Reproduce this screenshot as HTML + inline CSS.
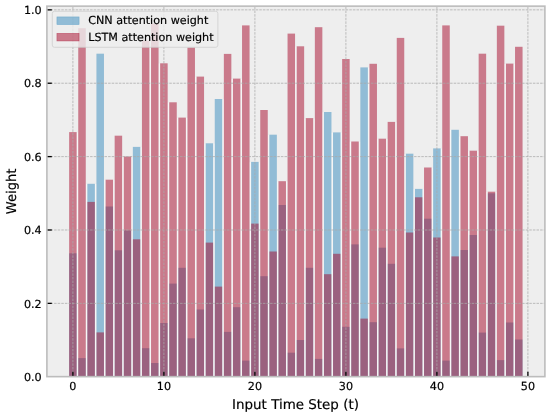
<!DOCTYPE html>
<html lang="en">
<head>
<meta charset="utf-8">
<title>Attention weights</title>
<style>
html,body{margin:0;padding:0;background:#ffffff;}
body{width:550px;height:414px;overflow:hidden;}
svg{display:block;}
</style>
</head>
<body>
<svg width="550" height="414" viewBox="0 0 550 414" font-family="'DejaVu Sans','Liberation Sans',sans-serif" text-rendering="geometricPrecision">
<rect x="0" y="0" width="550" height="414" fill="#ffffff"/>
<rect x="46.9" y="6.15" width="498.00" height="370.50" fill="#eeeeee"/>
<g fill="#348ABD" fill-opacity="0.5"><rect x="69.15" y="253.30" width="7.50" height="123.35"/><rect x="78.25" y="358.10" width="7.50" height="18.55"/><rect x="87.35" y="183.80" width="7.50" height="192.85"/><rect x="96.45" y="53.70" width="7.50" height="322.95"/><rect x="105.55" y="206.50" width="7.50" height="170.15"/><rect x="114.65" y="250.30" width="7.50" height="126.35"/><rect x="123.75" y="230.40" width="7.50" height="146.25"/><rect x="132.85" y="146.90" width="7.50" height="229.75"/><rect x="141.95" y="348.20" width="7.50" height="28.45"/><rect x="151.05" y="363.00" width="7.50" height="13.65"/><rect x="160.15" y="323.00" width="7.50" height="53.65"/><rect x="169.25" y="283.60" width="7.50" height="93.05"/><rect x="178.35" y="267.80" width="7.50" height="108.85"/><rect x="187.45" y="338.30" width="7.50" height="38.35"/><rect x="196.55" y="309.50" width="7.50" height="67.15"/><rect x="205.65" y="143.30" width="7.50" height="233.35"/><rect x="214.75" y="99.00" width="7.50" height="277.65"/><rect x="223.85" y="331.90" width="7.50" height="44.75"/><rect x="232.95" y="307.20" width="7.50" height="69.45"/><rect x="242.05" y="360.60" width="7.50" height="16.05"/><rect x="251.15" y="161.90" width="7.50" height="214.75"/><rect x="260.25" y="276.20" width="7.50" height="100.45"/><rect x="269.35" y="134.70" width="7.50" height="241.95"/><rect x="278.45" y="205.00" width="7.50" height="171.65"/><rect x="287.55" y="352.70" width="7.50" height="23.95"/><rect x="296.65" y="340.00" width="7.50" height="36.65"/><rect x="305.75" y="267.80" width="7.50" height="108.85"/><rect x="314.85" y="358.90" width="7.50" height="17.75"/><rect x="323.95" y="112.00" width="7.50" height="264.65"/><rect x="333.05" y="132.40" width="7.50" height="244.25"/><rect x="342.15" y="326.80" width="7.50" height="49.85"/><rect x="351.25" y="244.40" width="7.50" height="132.25"/><rect x="360.35" y="67.40" width="7.50" height="309.25"/><rect x="369.45" y="322.20" width="7.50" height="54.45"/><rect x="378.55" y="247.70" width="7.50" height="128.95"/><rect x="387.65" y="263.80" width="7.50" height="112.85"/><rect x="396.75" y="348.40" width="7.50" height="28.25"/><rect x="405.85" y="153.70" width="7.50" height="222.95"/><rect x="414.95" y="188.90" width="7.50" height="187.75"/><rect x="424.05" y="218.70" width="7.50" height="157.95"/><rect x="433.15" y="148.40" width="7.50" height="228.25"/><rect x="442.25" y="360.60" width="7.50" height="16.05"/><rect x="451.35" y="129.80" width="7.50" height="246.85"/><rect x="460.45" y="250.00" width="7.50" height="126.65"/><rect x="469.55" y="235.00" width="7.50" height="141.65"/><rect x="478.65" y="332.60" width="7.50" height="44.05"/><rect x="487.75" y="193.30" width="7.50" height="183.35"/><rect x="496.85" y="360.10" width="7.50" height="16.55"/><rect x="505.95" y="322.50" width="7.50" height="54.15"/><rect x="515.05" y="339.50" width="7.50" height="37.15"/></g>
<g fill="#A60628" fill-opacity="0.5"><rect x="69.15" y="132.10" width="7.50" height="244.55"/><rect x="78.25" y="28.20" width="7.50" height="348.45"/><rect x="87.35" y="201.90" width="7.50" height="174.75"/><rect x="96.45" y="332.40" width="7.50" height="44.25"/><rect x="105.55" y="179.70" width="7.50" height="196.95"/><rect x="114.65" y="135.70" width="7.50" height="240.95"/><rect x="123.75" y="156.50" width="7.50" height="220.15"/><rect x="132.85" y="239.30" width="7.50" height="137.35"/><rect x="141.95" y="40.70" width="7.50" height="335.95"/><rect x="151.05" y="23.50" width="7.50" height="353.15"/><rect x="160.15" y="63.30" width="7.50" height="313.35"/><rect x="169.25" y="102.30" width="7.50" height="274.35"/><rect x="178.35" y="117.60" width="7.50" height="259.05"/><rect x="187.45" y="47.50" width="7.50" height="329.15"/><rect x="196.55" y="76.60" width="7.50" height="300.05"/><rect x="205.65" y="242.60" width="7.50" height="134.05"/><rect x="214.75" y="286.60" width="7.50" height="90.05"/><rect x="223.85" y="53.90" width="7.50" height="322.75"/><rect x="232.95" y="78.60" width="7.50" height="298.05"/><rect x="242.05" y="25.40" width="7.50" height="351.25"/><rect x="251.15" y="223.60" width="7.50" height="153.05"/><rect x="260.25" y="110.00" width="7.50" height="266.65"/><rect x="269.35" y="251.50" width="7.50" height="125.15"/><rect x="278.45" y="181.20" width="7.50" height="195.45"/><rect x="287.55" y="33.60" width="7.50" height="343.05"/><rect x="296.65" y="46.30" width="7.50" height="330.35"/><rect x="305.75" y="118.10" width="7.50" height="258.55"/><rect x="314.85" y="27.20" width="7.50" height="349.45"/><rect x="323.95" y="274.20" width="7.50" height="102.45"/><rect x="333.05" y="253.80" width="7.50" height="122.85"/><rect x="342.15" y="59.00" width="7.50" height="317.65"/><rect x="351.25" y="141.50" width="7.50" height="235.15"/><rect x="360.35" y="318.60" width="7.50" height="58.05"/><rect x="369.45" y="63.80" width="7.50" height="312.85"/><rect x="378.55" y="138.70" width="7.50" height="237.95"/><rect x="387.65" y="121.90" width="7.50" height="254.75"/><rect x="396.75" y="37.90" width="7.50" height="338.75"/><rect x="405.85" y="232.50" width="7.50" height="144.15"/><rect x="414.95" y="197.30" width="7.50" height="179.35"/><rect x="424.05" y="167.50" width="7.50" height="209.15"/><rect x="433.15" y="237.50" width="7.50" height="139.15"/><rect x="442.25" y="25.40" width="7.50" height="351.25"/><rect x="451.35" y="256.40" width="7.50" height="120.25"/><rect x="460.45" y="136.20" width="7.50" height="240.45"/><rect x="469.55" y="150.70" width="7.50" height="225.95"/><rect x="478.65" y="53.70" width="7.50" height="322.95"/><rect x="487.75" y="191.70" width="7.50" height="184.95"/><rect x="496.85" y="25.70" width="7.50" height="350.95"/><rect x="505.95" y="63.60" width="7.50" height="313.05"/><rect x="515.05" y="46.80" width="7.50" height="329.85"/></g>
<g stroke="#ffffff" stroke-opacity="0.5" stroke-width="1.1" fill="none"><line x1="77.45" y1="132.40" x2="77.45" y2="376.65"/><line x1="86.55" y1="184.10" x2="86.55" y2="376.65"/><line x1="95.65" y1="184.10" x2="95.65" y2="376.65"/><line x1="104.75" y1="180.00" x2="104.75" y2="376.65"/><line x1="113.85" y1="180.00" x2="113.85" y2="376.65"/><line x1="122.95" y1="156.80" x2="122.95" y2="376.65"/><line x1="132.05" y1="156.80" x2="132.05" y2="376.65"/><line x1="141.15" y1="147.20" x2="141.15" y2="376.65"/><line x1="150.25" y1="41.00" x2="150.25" y2="376.65"/><line x1="159.35" y1="63.60" x2="159.35" y2="376.65"/><line x1="168.45" y1="102.60" x2="168.45" y2="376.65"/><line x1="177.55" y1="117.90" x2="177.55" y2="376.65"/><line x1="186.65" y1="117.90" x2="186.65" y2="376.65"/><line x1="195.75" y1="76.90" x2="195.75" y2="376.65"/><line x1="204.85" y1="143.60" x2="204.85" y2="376.65"/><line x1="213.95" y1="143.60" x2="213.95" y2="376.65"/><line x1="223.05" y1="99.30" x2="223.05" y2="376.65"/><line x1="232.15" y1="78.90" x2="232.15" y2="376.65"/><line x1="241.25" y1="78.90" x2="241.25" y2="376.65"/><line x1="250.35" y1="162.20" x2="250.35" y2="376.65"/><line x1="259.45" y1="162.20" x2="259.45" y2="376.65"/><line x1="268.55" y1="135.00" x2="268.55" y2="376.65"/><line x1="277.65" y1="181.50" x2="277.65" y2="376.65"/><line x1="286.75" y1="181.50" x2="286.75" y2="376.65"/><line x1="295.85" y1="46.60" x2="295.85" y2="376.65"/><line x1="304.95" y1="118.40" x2="304.95" y2="376.65"/><line x1="314.05" y1="118.40" x2="314.05" y2="376.65"/><line x1="323.15" y1="112.30" x2="323.15" y2="376.65"/><line x1="332.25" y1="132.70" x2="332.25" y2="376.65"/><line x1="341.35" y1="132.70" x2="341.35" y2="376.65"/><line x1="350.45" y1="141.80" x2="350.45" y2="376.65"/><line x1="359.55" y1="141.80" x2="359.55" y2="376.65"/><line x1="368.65" y1="67.70" x2="368.65" y2="376.65"/><line x1="377.75" y1="139.00" x2="377.75" y2="376.65"/><line x1="386.85" y1="139.00" x2="386.85" y2="376.65"/><line x1="395.95" y1="122.20" x2="395.95" y2="376.65"/><line x1="405.05" y1="154.00" x2="405.05" y2="376.65"/><line x1="414.15" y1="189.20" x2="414.15" y2="376.65"/><line x1="423.25" y1="189.20" x2="423.25" y2="376.65"/><line x1="432.35" y1="167.80" x2="432.35" y2="376.65"/><line x1="441.45" y1="148.70" x2="441.45" y2="376.65"/><line x1="450.55" y1="130.10" x2="450.55" y2="376.65"/><line x1="459.65" y1="136.50" x2="459.65" y2="376.65"/><line x1="468.75" y1="151.00" x2="468.75" y2="376.65"/><line x1="477.85" y1="151.00" x2="477.85" y2="376.65"/><line x1="486.95" y1="192.00" x2="486.95" y2="376.65"/><line x1="496.05" y1="192.00" x2="496.05" y2="376.65"/><line x1="505.15" y1="63.90" x2="505.15" y2="376.65"/><line x1="514.25" y1="63.90" x2="514.25" y2="376.65"/></g>
<g stroke="#aaaaaa" stroke-width="0.75" stroke-dasharray="2.5 1.1" fill="none"><line x1="72.90" y1="376.65" x2="72.90" y2="6.15"/><line x1="163.90" y1="376.65" x2="163.90" y2="6.15"/><line x1="254.90" y1="376.65" x2="254.90" y2="6.15"/><line x1="345.90" y1="376.65" x2="345.90" y2="6.15"/><line x1="436.90" y1="376.65" x2="436.90" y2="6.15"/><line x1="527.90" y1="376.65" x2="527.90" y2="6.15"/><line x1="46.9" y1="303.37" x2="544.9" y2="303.37"/><line x1="46.9" y1="229.99" x2="544.9" y2="229.99"/><line x1="46.9" y1="156.61" x2="544.9" y2="156.61"/><line x1="46.9" y1="83.23" x2="544.9" y2="83.23"/><line x1="46.9" y1="9.85" x2="544.9" y2="9.85"/></g>
<g stroke="#000000" stroke-width="1.3" fill="none"><line x1="72.90" y1="376.65" x2="72.90" y2="371.75"/><line x1="163.90" y1="376.65" x2="163.90" y2="371.75"/><line x1="254.90" y1="376.65" x2="254.90" y2="371.75"/><line x1="345.90" y1="376.65" x2="345.90" y2="371.75"/><line x1="436.90" y1="376.65" x2="436.90" y2="371.75"/><line x1="527.90" y1="376.65" x2="527.90" y2="371.75"/><line x1="46.9" y1="303.37" x2="51.80" y2="303.37"/><line x1="46.9" y1="229.99" x2="51.80" y2="229.99"/><line x1="46.9" y1="156.61" x2="51.80" y2="156.61"/><line x1="46.9" y1="83.23" x2="51.80" y2="83.23"/><line x1="46.9" y1="9.85" x2="51.80" y2="9.85"/></g>
<rect x="46.9" y="6.15" width="498.00" height="370.50" fill="none" stroke="#bcbcbc" stroke-width="1.6"/>
<rect x="52.3" y="11.3" width="165.6" height="36.0" rx="2.2" ry="2.2" fill="#eeeeee" fill-opacity="0.8" stroke="#cccccc" stroke-opacity="0.8" stroke-width="0.9"/>
<rect x="56.9" y="16.9" width="22.2" height="7.7" fill="#348ABD" fill-opacity="0.5" stroke="#348ABD" stroke-opacity="0.5" stroke-width="0.55"/>
<rect x="56.9" y="33.3" width="22.2" height="7.7" fill="#A60628" fill-opacity="0.5" stroke="#A60628" stroke-opacity="0.5" stroke-width="0.55"/>
<text stroke="#000000" stroke-width="0.18" x="88.2" y="24.2" font-size="11.16" fill="#000">CNN attention weight</text>
<text stroke="#000000" stroke-width="0.18" x="88.2" y="40.6" font-size="11.16" fill="#000">LSTM attention weight</text>
<g font-size="11.16" fill="#000000"><text stroke="#000000" stroke-width="0.18" x="72.90" y="389.9" text-anchor="middle">0</text><text stroke="#000000" stroke-width="0.18" x="163.90" y="389.9" text-anchor="middle">10</text><text stroke="#000000" stroke-width="0.18" x="254.90" y="389.9" text-anchor="middle">20</text><text stroke="#000000" stroke-width="0.18" x="345.90" y="389.9" text-anchor="middle">30</text><text stroke="#000000" stroke-width="0.18" x="436.90" y="389.9" text-anchor="middle">40</text><text stroke="#000000" stroke-width="0.18" x="527.90" y="389.9" text-anchor="middle">50</text><text stroke="#000000" stroke-width="0.18" x="41.7" y="380.90" text-anchor="end">0.0</text><text stroke="#000000" stroke-width="0.18" x="41.7" y="307.52" text-anchor="end">0.2</text><text stroke="#000000" stroke-width="0.18" x="41.7" y="234.14" text-anchor="end">0.4</text><text stroke="#000000" stroke-width="0.18" x="41.7" y="160.76" text-anchor="end">0.6</text><text stroke="#000000" stroke-width="0.18" x="41.7" y="87.38" text-anchor="end">0.8</text><text stroke="#000000" stroke-width="0.18" x="41.7" y="14.00" text-anchor="end">1.0</text></g>
<text stroke="#000000" stroke-width="0.18" x="295.5" y="409.0" font-size="13.44" text-anchor="middle" fill="#000">Input Time Step (t)</text>
<text stroke="#000000" stroke-width="0.18" transform="translate(15.65 191.4) rotate(-90) scale(0.976 1)" font-size="13.4" text-anchor="middle" fill="#000">Weight</text>
</svg>
</body>
</html>
